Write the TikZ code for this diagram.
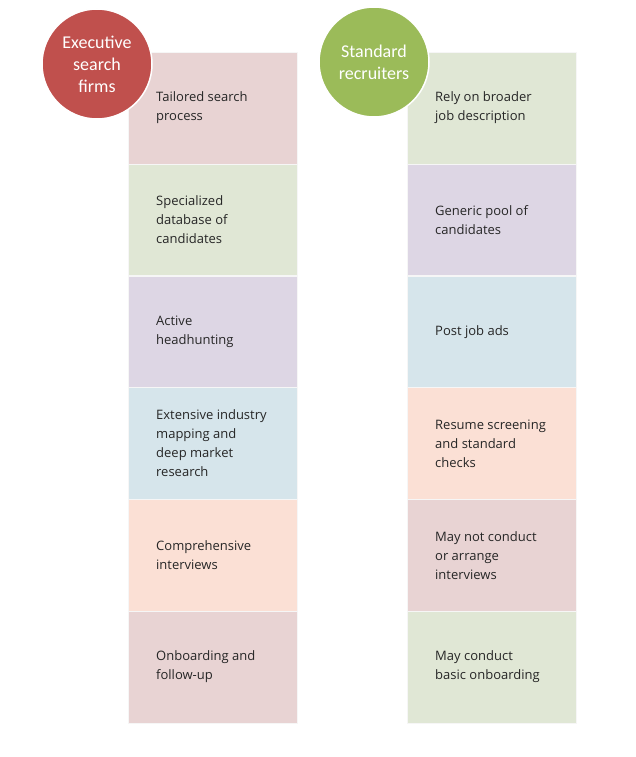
\documentclass[tikz,border=0pt]{standalone}
\usepackage{fontspec}
\setmainfont{Open Sans}
\newfontfamily\calfont{Carlito}
\definecolor{cpink}{HTML}{E8D3D3}
\definecolor{cgreen}{HTML}{E0E7D5}
\definecolor{clav}{HTML}{DDD6E4}
\definecolor{cblue}{HTML}{D6E5EB}
\definecolor{cpeach}{HTML}{FBE0D5}
\definecolor{cred}{HTML}{C0504D}
\definecolor{cgr}{HTML}{9BBB59}
\begin{document}
\begin{tikzpicture}[x=1pt,y=-1pt,
  cell/.style={minimum width=169pt,minimum height=111.5pt,inner sep=0pt,draw=white!93!gray,line width=0.6pt},
  txt/.style={anchor=west,align=left,font=\fontsize{13}{19}\selectfont,text=black!85,inner sep=0pt},
  circ/.style={circle,minimum size=110pt,inner sep=0pt,draw=white,line width=1.5pt,text=white,align=center,font=\calfont\fontsize{18}{22}\selectfont}]
\useasboundingbox (0,0) rectangle (635,757);
\foreach \t/\c [count=\i] in {{Tailored search\\process}/cpink,{Specialized\\database of\\candidates}/cgreen,{Active\\headhunting}/clav,{Extensive industry\\mapping and\\deep market\\research}/cblue,{Comprehensive\\interviews}/cpeach,{Onboarding and\\follow-up}/cpink}{
  \node[cell,fill=\c,anchor=north west] (L\i) at (128,{52+(\i-1)*111.8}) {};
  \node[txt] (LT\i) at ([xshift=28pt]L\i.west) {\t};
}
\foreach \t/\c [count=\i] in {{Rely on broader\\job description}/cgreen,{Generic pool of\\candidates}/clav,{Post job ads}/cblue,{Resume screening\\and standard\\checks}/cpeach,{May not conduct\\or arrange\\interviews}/cpink,{May conduct\\basic onboarding}/cgreen}{
  \node[cell,fill=\c,anchor=north west] (R\i) at (407,{52+(\i-1)*111.8}) {};
  \node[txt] (RT\i) at ([xshift=28pt]R\i.west) {\t};
}
\node[circ,fill=cred] (CL) at (97,64) {Executive\\search\\firms};
\node[circ,fill=cgr] (CR) at (374,62) {Standard\\recruiters};
\end{tikzpicture}
\end{document}
